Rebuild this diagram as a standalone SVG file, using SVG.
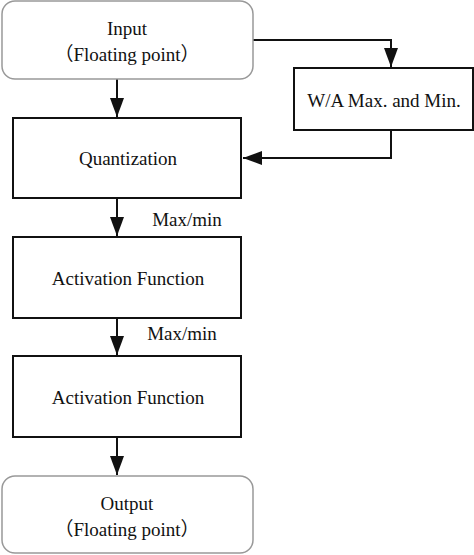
<svg xmlns="http://www.w3.org/2000/svg" width="474" height="555" viewBox="0 0 474 555">
<style>
text{font-family:"Liberation Serif","Noto Sans CJK SC",serif;font-size:19px;fill:#111;text-anchor:middle;dominant-baseline:central}
.box{fill:#fff;stroke:#111;stroke-width:2}
.term{fill:#fff;stroke:#999;stroke-width:1.5}
.conn{fill:none;stroke:#111;stroke-width:2}
</style>
<defs>
<marker id="ah" markerUnits="userSpaceOnUse" markerWidth="20" markerHeight="16" viewBox="0 0 20 16" refX="19" refY="8" orient="auto">
<path d="M0,1 L19,8 L0,15 Z" fill="#111"/>
</marker>
</defs>
<rect width="474" height="555" fill="#fff"/>
<g id="connectors">
<path class="conn" d="M117,79 V117" marker-end="url(#ah)"/>
<path class="conn" d="M253,40 H391 V67" marker-end="url(#ah)"/>
<path class="conn" d="M391,130 V158 H243" marker-end="url(#ah)"/>
<path class="conn" d="M117,198 V236" marker-end="url(#ah)"/>
<path class="conn" d="M117,318 V355" marker-end="url(#ah)"/>
<path class="conn" d="M117,437 V475" marker-end="url(#ah)"/>
<text x="187" y="219">Max/min</text>
<text x="182" y="333">Max/min</text>
</g>
<g id="input">
<rect class="term" x="2" y="1" width="251" height="78" rx="13"/>
<text x="127" y="28">Input</text>
<text x="127" y="54">（Floating point）</text>
</g>
<g id="wa">
<rect class="box" x="294" y="68" width="179" height="62"/>
<text x="384" y="100">W/A Max. and Min.</text>
</g>
<g id="quant">
<rect class="box" x="13" y="118" width="228" height="80"/>
<text x="128" y="158">Quantization</text>
</g>
<g id="act1">
<rect class="box" x="13" y="237" width="228" height="81"/>
<text x="128" y="278">Activation Function</text>
</g>
<g id="act2">
<rect class="box" x="13" y="356" width="228" height="81"/>
<text x="128" y="397">Activation Function</text>
</g>
<g id="output">
<rect class="term" x="2" y="476" width="251" height="77" rx="13"/>
<text x="127" y="503">Output</text>
<text x="127" y="529">（Floating point）</text>
</g>
</svg>
